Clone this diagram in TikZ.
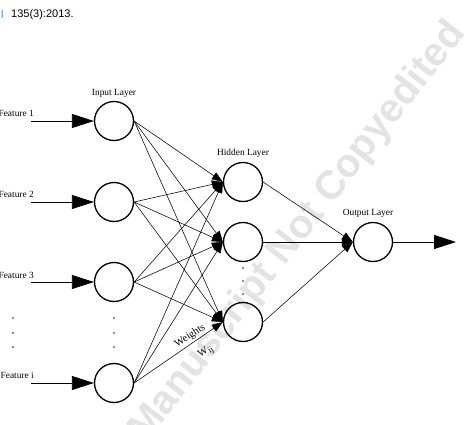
\documentclass[tikz,border=0pt]{standalone}
\usepackage{fontspec}
\setmainfont{Liberation Serif}
\newfontfamily\wmfont{Liberation Sans}
\usetikzlibrary{arrows.meta}
\definecolor{wmgray}{gray}{0.89}
\definecolor{linkblue}{RGB}{70,130,200}
\begin{document}
\begin{tikzpicture}[x=1pt,y=-1pt,
  neuron/.style={draw,circle,line width=1.3pt,minimum size=39pt,inner sep=0pt},
  lbl/.style={font=\fontsize{9.4}{10}\selectfont,inner sep=0pt},
  conn/.style={line width=0.55pt,-{Triangle[length=11pt,width=8pt]}},
  feed/.style={line width=0.8pt,-{Triangle[length=22pt,width=14pt]}},
  dotm/.style={circle,fill=black!60,inner sep=0pt,minimum size=2.2pt}]
\useasboundingbox (0,0) rectangle (474,424);
% watermark
\begin{scope}
\clip (0,0) rectangle (474,424);
\node[rotate=52,text=wmgray,font=\wmfont\bfseries\fontsize{40}{40}\selectfont,inner sep=0pt] (wm) at (298,232) {Manuscript Not Copyedited};
\end{scope}
% caption fragment
\node[anchor=west,inner sep=0pt,font=\wmfont\fontsize{11}{12}\selectfont] (cap) at (11,15) {135(3):2013.};
\node[anchor=west,inner sep=0pt,text=linkblue,font=\wmfont\fontsize{11}{12}\selectfont] (capl) at (1,15) {l};
% nodes
\node[neuron] (i1) at (114,121) {};
\node[neuron] (i2) at (114,202) {};
\node[neuron] (i3) at (114,282) {};
\node[neuron] (i4) at (114,383) {};
\node[neuron] (h1) at (243,182) {};
\node[neuron] (h2) at (243,242) {};
\node[neuron] (h3) at (243,322) {};
\node[neuron] (o) at (373,242) {};
% layer labels
\node[lbl] (li) at (114,93) {Input Layer};
\node[lbl] (lh) at (243,153) {Hidden Layer};
\node[lbl] (lo) at (368,213) {Output Layer};
% feature inputs
\coordinate (f1) at (31,121);
\coordinate (f2) at (31,202);
\coordinate (f3) at (31,282);
\coordinate (f4) at (31,383);
\node[lbl,anchor=south east] (t1) at (34,117) {Feature 1};
\node[lbl,anchor=south east] (t2) at (34,198) {Feature 2};
\node[lbl,anchor=south east] (t3) at (34,279) {Feature 3};
\node[lbl,anchor=south east] (t4) at (34,379) {Feature i};
\foreach \k in {1,2,3,4}{\draw[feed] (f\k) -- (i\k.west);}
% connections
\foreach \a in {1,2,3,4}{\foreach \b in {1,2,3}{\draw[conn] (i\a.east) -- (h\b.west);}}
\foreach \b in {1,2,3}{\draw[conn] (h\b.east) -- (o.west);}
% output
\coordinate (out) at (456,242);
\draw[feed] (o.east) -- (out);
% dots
\foreach \y [count=\n] in {318,333,347}{
  \node[dotm] (dl\n) at (13,\y) {};
  \node[dotm] (dm\n) at (114,\y) {};
}
\foreach \y [count=\n] in {268,281,294}{\node[dotm] (dh\n) at (243,\y) {};}
% weights label
\node[lbl,font=\fontsize{10.5}{11}\selectfont,rotate=33] (w) at (190,336) {Weights};
\node[lbl,font=\fontsize{10.5}{11}\selectfont,rotate=33] (wij) at (206,352) {W\raisebox{-0.5ex}{\fontsize{9}{9}\selectfont ij}};
\end{tikzpicture}
\end{document}
